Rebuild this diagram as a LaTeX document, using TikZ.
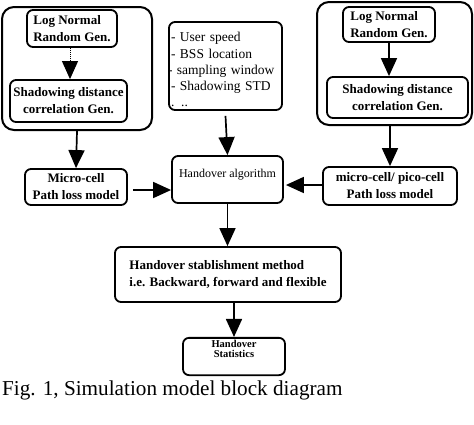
\documentclass[tikz,border=0pt]{standalone}
\usepackage{fontspec}
\setmainfont{Liberation Serif}
\usetikzlibrary{arrows.meta}
\begin{document}
\begin{tikzpicture}[x=1pt,y=-1pt,
  box/.style={draw, line width=1.8pt, rounded corners=6pt, inner sep=2pt, align=center},
  outerbox/.style={draw, line width=2pt, rounded corners=12pt},
  arr/.style={line width=1.7pt, -{Triangle[length=18pt,width=16pt]}},
  thinarr/.style={line width=1pt, densely dotted, -{Triangle[length=18pt,width=16pt]}},
  bl/.style={font=\bfseries\fontsize{13}{17}\selectfont},
  rg/.style={font=\fontsize{13.5}{16.25}\selectfont}]
\useasboundingbox (0,0) rectangle (474,424);
% left group
\node[outerbox, minimum width=150pt, minimum height=123pt] (lout) at (77,68.5) {};
\node[box, bl, align=left, minimum width=90pt, minimum height=37pt] (llog) at (72,28.5) {Log Normal\\Random Gen.};
\node[box, bl, minimum width=117pt, minimum height=42pt] (lshad) at (68.5,101) {Shadowing distance\\correlation Gen.};
\node[box, bl, minimum width=102pt, minimum height=36pt] (lpath) at (76,187) {Micro-cell\\Path loss model};
% middle
\node[box, rg, align=left, text width=109pt, minimum height=88pt] (par) at (225.5,66) {\rule{0pt}{17pt}- User speed\\- BSS location\\\hspace*{-3pt}- sampling window\\- Shadowing STD\\. ..};
\node[box, font=\fontsize{12}{16}\selectfont, minimum width=111pt, minimum height=47pt, text depth=12pt] (ho) at (227.5,179.5) {Handover algorithm};
% right group
\node[outerbox, minimum width=155pt, minimum height=123pt] (rout) at (394.5,63.5) {};
\node[box, bl, align=left, minimum width=92pt, minimum height=35pt] (rlog) at (389,24.5) {Log Normal\\Random Gen.};
\node[box, bl, minimum width=141pt, minimum height=41pt] (rshad) at (397.5,97.5) {Shadowing distance\\correlation Gen.};
\node[box, bl, minimum width=134pt, minimum height=38pt] (rpath) at (390,186) {micro-cell/ pico-cell\\Path loss model};
% bottom
\node[box, font=\bfseries\fontsize{13}{17}\selectfont, align=left, minimum width=226pt, minimum height=55pt] (est) at (228,274.5) {Handover stablishment method\\i.e. Backward, forward and flexible};
\node[box, font=\bfseries\fontsize{10.5}{10}\selectfont, minimum width=102pt, minimum height=33pt, text depth=16pt] (stat) at (234,356.5) {Handover\\Statistics};
\node[anchor=base west, inner sep=0pt, font=\fontsize{21.2}{25}\selectfont] (cap) at (2,395) {Fig. 1, Simulation model block diagram};
% connectors
\coordinate (y190) at (0,190);
\coordinate (y185) at (0,185);
\draw[thinarr] (llog.south -| 70,0) -- (lshad.north -| 70,0);
\draw[arr] (lout.south) -- (lpath.north);
\draw[arr] ([xshift=5pt]lpath.east |- y190) -- (ho.west |- y190);
\draw[arr] ([yshift=-5pt]par.south) -- (ho.north);
\draw[arr] (rlog.south) -- (rlog.south |- rshad.north);
\draw[arr] (rout.south -| rpath.north) -- (rpath.north);
\draw[arr] (rpath.west |- y185) -- ([xshift=2pt]ho.east |- y185);
\draw[arr] (ho.south) -- (ho.south |- est.north);
\draw[arr] (est.south -| stat.north) -- (stat.north);
\end{tikzpicture}
\end{document}
